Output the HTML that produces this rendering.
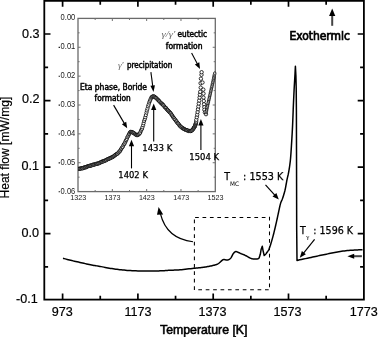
<!DOCTYPE html>
<html><head><meta charset="utf-8"><title>DSC heat flow</title>
<style>html,body{margin:0;padding:0;background:#fff;width:378px;height:337px;overflow:hidden}svg{display:block}</style>
</head><body>
<svg width="378" height="337" viewBox="0 0 378 337"><rect x="44.3" y="0.85" width="319.6" height="298.75" fill="none" stroke="#000" stroke-width="1.8"/>
<path d="M62.6,299.6V293.6M62.6,0.85V6.85M137.9,299.6V293.6M137.9,0.85V6.85M213.2,299.6V293.6M213.2,0.85V6.85M288.5,299.6V293.6M288.5,0.85V6.85M100.25,299.6V295.8M100.25,0.85V4.65M175.55,299.6V295.8M175.55,0.85V4.65M250.85,299.6V295.8M250.85,0.85V4.65M326.15,299.6V295.8M326.15,0.85V4.65M44.3,34.01H50.5M363.9,34.01H357.7M44.3,100.54H50.5M363.9,100.54H357.7M44.3,167.07H50.5M363.9,167.07H357.7M44.3,233.6H50.5M363.9,233.6H357.7M44.3,67.28H48.1M363.9,67.28H360.1M44.3,133.81H48.1M363.9,133.81H360.1M44.3,200.33H48.1M363.9,200.33H360.1M44.3,266.87H48.1M363.9,266.87H360.1" stroke="#000" stroke-width="1.7" fill="none"/>
<g font-family="Liberation Sans, Arial, sans-serif" font-size="12.6" fill="#000" stroke="#000" stroke-width="0.2">
<text x="51.7" y="315.9">973</text>
<text x="124.5" y="315.9">1173</text>
<text x="198.4" y="315.9">1373</text>
<text x="273.4" y="315.9">1573</text>
<text x="349.8" y="315.7">1773</text>
<text x="22" y="37.5">0.3</text>
<text x="21.9" y="103.2">0.2</text>
<text x="21.5" y="170.35">0.1</text>
<text x="21.6" y="236.6">0.0</text>
<text x="16" y="302.6">-0.1</text>
</g>
<text x="160" y="334" font-family="Liberation Sans, Arial, sans-serif" font-size="12.3" fill="#000" stroke="#000" stroke-width="0.55">Temperature [K]</text>
<text transform="translate(9.3,198.5) rotate(-90)" font-family="Liberation Sans, Arial, sans-serif" font-size="12.05" fill="#000" stroke="#000" stroke-width="0.2">Heat flow [mW/mg]</text>
<polyline points="63,258.3 63.57,258.45 64.3,258.65 65.16,258.89 66.14,259.15 67.2,259.43 68.31,259.73 69.45,260.02 70.6,260.3 71.78,260.58 73.04,260.87 74.36,261.18 75.72,261.48 77.1,261.79 78.49,262.1 79.86,262.4 81.2,262.7 82.53,263 83.88,263.3 85.24,263.61 86.59,263.91 87.93,264.21 89.23,264.49 90.49,264.76 91.7,265 92.83,265.21 93.88,265.4 94.87,265.56 95.84,265.72 96.82,265.87 97.81,266.03 98.87,266.2 100,266.4 101.21,266.63 102.49,266.87 103.81,267.13 105.16,267.4 106.52,267.67 107.9,267.93 109.26,268.17 110.6,268.4 111.91,268.61 113.2,268.8 114.48,268.99 115.77,269.16 117.07,269.33 118.4,269.49 119.77,269.65 121.2,269.8 122.66,269.95 124.13,270.1 125.63,270.24 127.17,270.38 128.75,270.5 130.39,270.62 132.11,270.72 133.9,270.8 135.84,270.87 137.94,270.92 140.14,270.95 142.38,270.98 144.61,270.99 146.76,271 148.78,271 150.6,271 152.23,271 153.73,270.99 155.12,270.97 156.42,270.94 157.65,270.91 158.85,270.88 160.02,270.84 161.2,270.8 162.34,270.75 163.41,270.7 164.42,270.63 165.41,270.57 166.4,270.5 167.41,270.43 168.47,270.36 169.6,270.3 170.78,270.24 171.98,270.2 173.2,270.16 174.46,270.11 175.76,270.06 177.11,270 178.52,269.91 180,269.8 181.61,269.65 183.36,269.48 185.21,269.28 187.09,269.06 188.94,268.85 190.72,268.64 192.36,268.46 193.8,268.3 195.03,268.18 196.1,268.08 197.04,268 197.9,267.93 198.71,267.86 199.5,267.79 200.32,267.71 201.2,267.6 202.13,267.48 203.08,267.34 204.02,267.2 204.97,267.04 205.91,266.89 206.83,266.73 207.73,266.56 208.6,266.4 209.46,266.23 210.32,266.06 211.17,265.89 212.01,265.71 212.81,265.53 213.56,265.35 214.26,265.17 214.9,265 215.46,264.84 215.96,264.68 216.4,264.54 216.79,264.39 217.16,264.23 217.51,264.07 217.85,263.9 218.2,263.7 218.54,263.48 218.87,263.25 219.17,263 219.46,262.74 219.75,262.47 220.03,262.21 220.31,261.95 220.6,261.7 220.9,261.45 221.2,261.18 221.5,260.91 221.8,260.64 222.09,260.38 222.38,260.15 222.65,259.96 222.9,259.8 223.13,259.69 223.33,259.61 223.52,259.57 223.69,259.55 223.87,259.55 224.06,259.56 224.27,259.58 224.5,259.6 224.76,259.64 225.04,259.71 225.34,259.79 225.65,259.89 225.96,259.98 226.28,260.05 226.59,260.09 226.9,260.1 227.2,260.07 227.51,260.02 227.82,259.95 228.13,259.86 228.43,259.75 228.73,259.61 229.02,259.47 229.3,259.3 229.57,259.12 229.83,258.92 230.08,258.71 230.33,258.48 230.57,258.23 230.81,257.95 231.05,257.64 231.3,257.3 231.55,256.91 231.79,256.45 232.04,255.96 232.28,255.45 232.53,254.94 232.78,254.45 233.04,253.99 233.3,253.6 233.57,253.25 233.85,252.92 234.14,252.61 234.43,252.32 234.72,252.08 235.01,251.87 235.31,251.71 235.6,251.6 235.89,251.55 236.17,251.57 236.46,251.63 236.74,251.74 237.04,251.87 237.34,252.01 237.66,252.16 238,252.3 238.36,252.44 238.75,252.61 239.16,252.79 239.58,252.98 239.99,253.17 240.41,253.35 240.81,253.53 241.2,253.7 241.57,253.85 241.92,253.98 242.26,254.11 242.6,254.24 242.94,254.36 243.28,254.5 243.63,254.64 244,254.8 244.38,254.98 244.77,255.16 245.18,255.36 245.58,255.56 245.99,255.77 246.4,255.98 246.8,256.19 247.2,256.4 247.59,256.61 247.98,256.84 248.37,257.07 248.75,257.29 249.13,257.52 249.52,257.73 249.91,257.93 250.3,258.1 250.69,258.26 251.07,258.4 251.46,258.54 251.84,258.66 252.24,258.77 252.64,258.86 253.06,258.94 253.5,259 253.98,259.04 254.5,259.07 255.05,259.08 255.6,259.07 256.14,259.05 256.65,259.01 257.11,258.96 257.5,258.9 257.83,258.81 258.11,258.69 258.35,258.55 258.55,258.39 258.72,258.24 258.87,258.1 258.99,257.98 259.1,257.9 260.3,254.3 261.1,249.5 262.3,246.3 263,250.3 264.2,255.5 264.35,255.37 264.53,255.22 264.76,255.04 265.01,254.83 265.28,254.57 265.58,254.27 265.88,253.92 266.2,253.5 266.53,253.04 266.89,252.56 267.27,252.03 267.66,251.46 268.07,250.81 268.48,250.08 268.89,249.24 269.3,248.3 269.71,247.22 270.13,246.03 270.56,244.72 270.99,243.34 271.43,241.89 271.86,240.41 272.28,238.9 272.7,237.4 273.11,235.86 273.53,234.26 273.95,232.61 274.36,230.93 274.76,229.25 275.15,227.59 275.53,225.96 275.9,224.4 276.25,222.88 276.58,221.39 276.91,219.92 277.22,218.48 277.52,217.06 277.82,215.67 278.11,214.32 278.4,213 278.68,211.7 278.95,210.41 279.22,209.15 279.47,207.92 279.73,206.74 279.98,205.61 280.24,204.57 280.5,203.6 280.76,202.76 281.02,202.06 281.27,201.45 281.52,200.89 281.78,200.34 282.05,199.75 282.32,199.09 282.6,198.3 282.9,197.4 283.21,196.43 283.54,195.4 283.87,194.32 284.2,193.21 284.51,192.08 284.82,190.94 285.1,189.8 285.36,188.64 285.6,187.45 285.83,186.22 286.04,184.99 286.26,183.75 286.47,182.53 286.68,181.35 286.9,180.2 287.13,179.12 287.35,178.12 287.58,177.15 287.81,176.19 288.03,175.22 288.26,174.2 288.48,173.1 288.7,171.9 288.92,170.62 289.14,169.3 289.37,167.93 289.59,166.49 289.8,164.99 290.01,163.42 290.21,161.76 290.4,160 290.58,158.13 290.74,156.13 290.9,154.04 291.04,151.88 291.19,149.67 291.33,147.44 291.46,145.21 291.6,143 291.74,140.81 291.87,138.62 292,136.41 292.13,134.19 292.25,131.94 292.37,129.66 292.49,127.35 292.6,125 292.71,122.58 292.81,120.07 292.91,117.51 293.01,114.94 293.11,112.37 293.2,109.84 293.3,107.37 293.4,105 293.5,102.7 293.6,100.42 293.7,98.19 293.81,96 293.91,93.88 294.01,91.83 294.1,89.87 294.2,88 294.29,86.25 294.39,84.6 294.48,83.04 294.57,81.55 294.66,80.12 294.74,78.73 294.82,77.36 294.9,76 294.98,74.6 295.05,73.17 295.12,71.73 295.19,70.35 295.26,69.06 295.31,67.91 295.36,66.94 295.4,66.2 295.9,76 296.2,88 296.4,110 296.5,150 296.7,230 297,260.4 298.11,260.16 299.6,259.85 301.39,259.47 303.36,259.05 305.41,258.61 307.46,258.18 309.38,257.77 311.1,257.4 312.63,257.07 314.09,256.75 315.48,256.45 316.84,256.15 318.17,255.86 319.5,255.57 320.83,255.29 322.2,255 323.59,254.71 324.97,254.43 326.36,254.15 327.75,253.87 329.14,253.59 330.52,253.32 331.91,253.06 333.3,252.8 334.69,252.54 336.07,252.28 337.46,252.02 338.84,251.77 340.23,251.53 341.62,251.3 343.01,251.09 344.4,250.9 345.82,250.73 347.29,250.59 348.78,250.46 350.26,250.34 351.71,250.24 353.1,250.15 354.41,250.07 355.6,250 356.72,249.94 357.79,249.9 358.81,249.86 359.75,249.84 360.61,249.83 361.36,249.82 362,249.81 362.5,249.8" fill="none" stroke="#000" stroke-width="1.5" stroke-linejoin="round"/>
<path d="M195.1,217.4H270M269.5,216.8V290.2M198.3,289.7H270M194.4,219.5V290.2" fill="none" stroke="#000" stroke-width="1.05" stroke-dasharray="3.7,3.71"/>
<path d="M193,241.7 C178,240 165,232 160.5,214" fill="none" stroke="#000" stroke-width="1.15"/>
<path d="M158.6,207 L163.2,214.6 L157,214.8 Z" fill="#000"/>
<line x1="332.2" y1="25.8" x2="332.2" y2="15.5" stroke="#444" stroke-width="2"/><path d="M332.2,8.4L335.3,16L329.1,16Z" fill="#000"/>
<line x1="361.9" y1="256.2" x2="353.7" y2="256.2" stroke="#444" stroke-width="2"/><path d="M347.4,256.2L354.2,253.7L354.2,258.7Z" fill="#000"/>
<line x1="265.5" y1="184.8" x2="274.79" y2="195.14" stroke="#000" stroke-width="1.2"/><path d="M278.8,199.6L272.52,196.5L276.39,193.03Z" fill="#000"/>
<line x1="314.6" y1="239.4" x2="303.56" y2="253.12" stroke="#000" stroke-width="1.2"/><path d="M299.8,257.8L301.85,251.11L305.9,254.36Z" fill="#000"/>
<text x="289.4" y="39.5" font-size="11.6" font-family="DejaVu Sans Condensed, Liberation Sans, sans-serif" fill="#000" textLength="60.5" lengthAdjust="spacingAndGlyphs" stroke="#000" stroke-width="0.7">Exothermic</text>
<text x="224.2" y="179.9" font-size="10.5" font-family="DejaVu Sans Condensed, Liberation Sans, sans-serif" fill="#000" stroke="#000" stroke-width="0.25">T</text>
<text x="230" y="186.2" font-size="6.2" font-family="DejaVu Sans Condensed, Liberation Sans, sans-serif" fill="#000" textLength="9" lengthAdjust="spacingAndGlyphs">MC</text>
<text x="243.1" y="179.9" font-size="10.5" font-family="DejaVu Sans Condensed, Liberation Sans, sans-serif" fill="#000" textLength="40.2" lengthAdjust="spacingAndGlyphs" stroke="#000" stroke-width="0.25">: 1553 K</text>
<text x="300.1" y="233.9" font-size="10.5" font-family="DejaVu Sans Condensed, Liberation Sans, sans-serif" fill="#000" stroke="#000" stroke-width="0.25">T</text>
<text x="306.2" y="239.3" font-size="7" font-family="Liberation Serif, serif" fill="#000">γ</text>
<text x="313.3" y="233.9" font-size="10.5" font-family="DejaVu Sans Condensed, Liberation Sans, sans-serif" fill="#000" textLength="39.7" lengthAdjust="spacingAndGlyphs" stroke="#000" stroke-width="0.25">: 1596 K</text>
<rect x="78" y="18.4" width="137.3" height="173.2" fill="#fff" stroke="#6a6a6a" stroke-width="1.3"/>
<path d="M95.16,191.6V190M95.16,18.4V20M112.33,191.6V189M112.33,18.4V21M129.49,191.6V190M129.49,18.4V20M146.65,191.6V189M146.65,18.4V21M163.81,191.6V190M163.81,18.4V20M180.97,191.6V189M180.97,18.4V21M198.14,191.6V190M198.14,18.4V20M78,32.83H79.6M215.3,32.83H213.7M78,47.27H80.6M215.3,47.27H212.7M78,61.7H79.6M215.3,61.7H213.7M78,76.13H80.6M215.3,76.13H212.7M78,90.57H79.6M215.3,90.57H213.7M78,105H80.6M215.3,105H212.7M78,119.43H79.6M215.3,119.43H213.7M78,133.87H80.6M215.3,133.87H212.7M78,148.3H79.6M215.3,148.3H213.7M78,162.73H80.6M215.3,162.73H212.7M78,177.17H79.6M215.3,177.17H213.7" stroke="#707070" stroke-width="1" fill="none"/>
<g font-family="Liberation Sans, Arial, sans-serif" font-size="7.8" fill="#1a1a1a">
<text transform="translate(78.2,200) scale(0.92,1)" text-anchor="middle">1323</text>
<text transform="translate(112.53,200) scale(0.92,1)" text-anchor="middle">1373</text>
<text transform="translate(146.85,200) scale(0.92,1)" text-anchor="middle">1423</text>
<text transform="translate(181.17,200) scale(0.92,1)" text-anchor="middle">1473</text>
<text transform="translate(215.5,200) scale(0.92,1)" text-anchor="middle">1523</text>
<text transform="translate(75.3,20.3) scale(0.86,1)" text-anchor="end" font-size="8.8">0.00</text>
<text transform="translate(75.3,49.17) scale(0.86,1)" text-anchor="end" font-size="8.8">0.01</text>
<text transform="translate(75.3,78.03) scale(0.86,1)" text-anchor="end" font-size="8.8">0.02</text>
<text transform="translate(75.3,106.9) scale(0.86,1)" text-anchor="end" font-size="8.8">0.03</text>
<text transform="translate(75.3,135.77) scale(0.86,1)" text-anchor="end" font-size="8.8">0.04</text>
<text transform="translate(75.3,164.63) scale(0.86,1)" text-anchor="end" font-size="8.8">0.05</text>
<text transform="translate(75.3,193.5) scale(0.86,1)" text-anchor="end" font-size="8.8">0.06</text>
</g>
<path d="M58.6,47.37h1.4M58.6,76.23h1.4M58.6,105.1h1.4M58.6,133.97h1.4M58.6,162.83h1.4M58.6,191.7h1.4" stroke="#222" stroke-width="1.1" fill="none"/>
<clipPath id="ic"><rect x="78" y="10" width="150" height="182"/></clipPath>
<g clip-path="url(#ic)" fill="#fff" stroke="#000" stroke-width="0.8"><circle cx="77.97" cy="168.99" r="1.6"/><circle cx="78.6" cy="168.81" r="1.6"/><circle cx="79.17" cy="168.85" r="1.6"/><circle cx="79.65" cy="168.81" r="1.6"/><circle cx="80.25" cy="168.62" r="1.6"/><circle cx="80.84" cy="168.28" r="1.6"/><circle cx="81.5" cy="168.58" r="1.6"/><circle cx="82.05" cy="168.08" r="1.6"/><circle cx="82.73" cy="168.37" r="1.6"/><circle cx="83.3" cy="167.89" r="1.6"/><circle cx="83.98" cy="167.52" r="1.6"/><circle cx="84.59" cy="167.5" r="1.6"/><circle cx="85.07" cy="167.21" r="1.6"/><circle cx="85.67" cy="167.44" r="1.6"/><circle cx="86.25" cy="167.08" r="1.6"/><circle cx="86.91" cy="166.73" r="1.6"/><circle cx="87.49" cy="166.31" r="1.6"/><circle cx="88" cy="166.18" r="1.6"/><circle cx="88.66" cy="166.11" r="1.6"/><circle cx="89.21" cy="166" r="1.6"/><circle cx="89.86" cy="165.63" r="1.6"/><circle cx="90.48" cy="165.7" r="1.6"/><circle cx="90.94" cy="165.46" r="1.6"/><circle cx="91.61" cy="165.46" r="1.6"/><circle cx="92.22" cy="164.94" r="1.6"/><circle cx="92.83" cy="164.68" r="1.6"/><circle cx="93.35" cy="164.88" r="1.6"/><circle cx="93.92" cy="164.54" r="1.6"/><circle cx="94.52" cy="164.47" r="1.6"/><circle cx="95.22" cy="164.25" r="1.6"/><circle cx="95.81" cy="163.93" r="1.6"/><circle cx="96.4" cy="163.91" r="1.6"/><circle cx="96.94" cy="163.65" r="1.6"/><circle cx="97.54" cy="163.77" r="1.6"/><circle cx="98.1" cy="163.4" r="1.6"/><circle cx="98.64" cy="163.21" r="1.6"/><circle cx="99.37" cy="163.17" r="1.6"/><circle cx="99.98" cy="162.53" r="1.6"/><circle cx="100.47" cy="162.53" r="1.6"/><circle cx="101" cy="162.17" r="1.6"/><circle cx="101.64" cy="161.7" r="1.6"/><circle cx="102.24" cy="161.83" r="1.6"/><circle cx="102.87" cy="161.25" r="1.6"/><circle cx="103.47" cy="161.38" r="1.6"/><circle cx="103.97" cy="160.89" r="1.6"/><circle cx="104.68" cy="160.88" r="1.6"/><circle cx="105.34" cy="160.6" r="1.6"/><circle cx="105.84" cy="160.07" r="1.6"/><circle cx="106.46" cy="160.09" r="1.6"/><circle cx="107.18" cy="159.37" r="1.6"/><circle cx="107.65" cy="159.15" r="1.6"/><circle cx="108.27" cy="159.03" r="1.6"/><circle cx="108.94" cy="158.61" r="1.6"/><circle cx="109.39" cy="158.45" r="1.6"/><circle cx="110.05" cy="158.25" r="1.6"/><circle cx="110.74" cy="158.04" r="1.6"/><circle cx="111.25" cy="157.69" r="1.6"/><circle cx="111.87" cy="157.04" r="1.6"/><circle cx="112.48" cy="157.17" r="1.6"/><circle cx="113.08" cy="156.84" r="1.6"/><circle cx="113.57" cy="156.27" r="1.6"/><circle cx="114.13" cy="156.03" r="1.6"/><circle cx="114.71" cy="155.32" r="1.6"/><circle cx="115.29" cy="155.01" r="1.6"/><circle cx="115.89" cy="154.55" r="1.6"/><circle cx="116.41" cy="154.19" r="1.6"/><circle cx="116.98" cy="153.9" r="1.6"/><circle cx="117.52" cy="153.75" r="1.6"/><circle cx="118.23" cy="152.76" r="1.6"/><circle cx="118.71" cy="152.3" r="1.6"/><circle cx="119.28" cy="151.53" r="1.6"/><circle cx="119.96" cy="151.31" r="1.6"/><circle cx="120.45" cy="150.23" r="1.6"/><circle cx="120.94" cy="149.17" r="1.6"/><circle cx="121.57" cy="148.33" r="1.6"/><circle cx="122.21" cy="147.37" r="1.6"/><circle cx="122.66" cy="146.87" r="1.6"/><circle cx="123.33" cy="145.37" r="1.6"/><circle cx="123.91" cy="144.24" r="1.6"/><circle cx="124.49" cy="143.71" r="1.6"/><circle cx="125.12" cy="142.45" r="1.6"/><circle cx="125.6" cy="141.08" r="1.6"/><circle cx="126.17" cy="140.11" r="1.6"/><circle cx="126.8" cy="138.91" r="1.6"/><circle cx="127.33" cy="137.25" r="1.6"/><circle cx="127.98" cy="136.43" r="1.6"/><circle cx="128.56" cy="135.13" r="1.6"/><circle cx="129.14" cy="134.05" r="1.6"/><circle cx="129.61" cy="133.03" r="1.6"/><circle cx="130.21" cy="132.05" r="1.6"/><circle cx="130.76" cy="131.83" r="1.6"/><circle cx="131.43" cy="132.03" r="1.6"/><circle cx="132.14" cy="132.07" r="1.6"/><circle cx="132.7" cy="132.7" r="1.6"/><circle cx="133.27" cy="132.69" r="1.6"/><circle cx="133.7" cy="132.97" r="1.6"/><circle cx="134.29" cy="133.31" r="1.6"/><circle cx="134.92" cy="134.11" r="1.6"/><circle cx="135.57" cy="134.33" r="1.6"/><circle cx="136.13" cy="134.93" r="1.6"/><circle cx="136.65" cy="135.08" r="1.6"/><circle cx="137.43" cy="135.12" r="1.6"/><circle cx="137.96" cy="134.75" r="1.6"/><circle cx="138.43" cy="134.61" r="1.6"/><circle cx="139.06" cy="134.13" r="1.6"/><circle cx="139.73" cy="133.27" r="1.6"/><circle cx="140.2" cy="132.75" r="1.6"/><circle cx="140.83" cy="131.18" r="1.6"/><circle cx="141.29" cy="129.88" r="1.6"/><circle cx="142" cy="128.84" r="1.6"/><circle cx="142.44" cy="127.2" r="1.6"/><circle cx="143.14" cy="125.27" r="1.6"/><circle cx="143.6" cy="123.24" r="1.6"/><circle cx="144.12" cy="120.91" r="1.6"/><circle cx="144.82" cy="119.22" r="1.6"/><circle cx="145.3" cy="117.26" r="1.6"/><circle cx="145.85" cy="115.1" r="1.6"/><circle cx="146.48" cy="112.6" r="1.6"/><circle cx="146.94" cy="110.54" r="1.6"/><circle cx="147.49" cy="108.63" r="1.6"/><circle cx="148.06" cy="106.4" r="1.6"/><circle cx="148.6" cy="104.71" r="1.6"/><circle cx="149.19" cy="102.61" r="1.6"/><circle cx="149.8" cy="101.18" r="1.6"/><circle cx="150.34" cy="99.76" r="1.6"/><circle cx="150.93" cy="98.44" r="1.6"/><circle cx="151.5" cy="97.31" r="1.6"/><circle cx="152.1" cy="96.73" r="1.6"/><circle cx="152.6" cy="96.67" r="1.6"/><circle cx="153.24" cy="96.31" r="1.6"/><circle cx="153.96" cy="96.48" r="1.6"/><circle cx="154.46" cy="96.71" r="1.6"/><circle cx="155.08" cy="97.26" r="1.6"/><circle cx="155.56" cy="97.62" r="1.6"/><circle cx="156.16" cy="97.99" r="1.6"/><circle cx="156.86" cy="98.7" r="1.6"/><circle cx="157.4" cy="99.41" r="1.6"/><circle cx="158.01" cy="99.77" r="1.6"/><circle cx="158.51" cy="100.36" r="1.6"/><circle cx="159.08" cy="101.07" r="1.6"/><circle cx="159.63" cy="101.54" r="1.6"/><circle cx="160.23" cy="102.39" r="1.6"/><circle cx="160.84" cy="102.94" r="1.6"/><circle cx="161.49" cy="103.19" r="1.6"/><circle cx="161.99" cy="104.18" r="1.6"/><circle cx="162.63" cy="104.29" r="1.6"/><circle cx="163.09" cy="105.08" r="1.6"/><circle cx="163.68" cy="105.58" r="1.6"/><circle cx="164.28" cy="106.47" r="1.6"/><circle cx="165.01" cy="107.24" r="1.6"/><circle cx="165.48" cy="107.77" r="1.6"/><circle cx="166.15" cy="108.06" r="1.6"/><circle cx="166.77" cy="109.19" r="1.6"/><circle cx="167.23" cy="109.82" r="1.6"/><circle cx="167.84" cy="110.19" r="1.6"/><circle cx="168.52" cy="111.06" r="1.6"/><circle cx="168.97" cy="111.52" r="1.6"/><circle cx="169.61" cy="112.14" r="1.6"/><circle cx="170.12" cy="112.82" r="1.6"/><circle cx="170.79" cy="113.35" r="1.6"/><circle cx="171.34" cy="114.34" r="1.6"/><circle cx="171.83" cy="115.06" r="1.6"/><circle cx="172.54" cy="115.98" r="1.6"/><circle cx="173.03" cy="117.09" r="1.6"/><circle cx="173.75" cy="117.91" r="1.6"/><circle cx="174.21" cy="118.29" r="1.6"/><circle cx="174.78" cy="119.42" r="1.6"/><circle cx="175.41" cy="119.84" r="1.6"/><circle cx="176.04" cy="121.12" r="1.6"/><circle cx="176.67" cy="121.47" r="1.6"/><circle cx="177.11" cy="122.6" r="1.6"/><circle cx="177.75" cy="123.21" r="1.6"/><circle cx="178.26" cy="123.58" r="1.6"/><circle cx="178.97" cy="124.52" r="1.6"/><circle cx="179.42" cy="125.46" r="1.6"/><circle cx="180.12" cy="126.01" r="1.6"/><circle cx="180.62" cy="126.65" r="1.6"/><circle cx="181.22" cy="127.22" r="1.6"/><circle cx="181.86" cy="127.43" r="1.6"/><circle cx="182.46" cy="128.26" r="1.6"/><circle cx="182.99" cy="128.22" r="1.6"/><circle cx="183.61" cy="128.69" r="1.6"/><circle cx="184.11" cy="129.01" r="1.6"/><circle cx="184.68" cy="129.36" r="1.6"/><circle cx="185.32" cy="129.72" r="1.6"/><circle cx="186.03" cy="129.99" r="1.6"/><circle cx="186.61" cy="130.17" r="1.6"/><circle cx="187.21" cy="130.31" r="1.6"/><circle cx="187.82" cy="130.52" r="1.6"/><circle cx="188.54" cy="131.02" r="1.6"/><circle cx="189.05" cy="131.1" r="1.6"/><circle cx="189.79" cy="130.91" r="1.6"/><circle cx="190.34" cy="131.04" r="1.6"/><circle cx="190.83" cy="131.1" r="1.6"/><circle cx="191.5" cy="130.52" r="1.6"/><circle cx="192.06" cy="130.43" r="1.6"/><circle cx="192.48" cy="129.91" r="1.6"/><circle cx="193.01" cy="129.32" r="1.6"/><circle cx="193.39" cy="128.64" r="1.6"/><circle cx="193.69" cy="128" r="1.6"/><circle cx="194.06" cy="127.8" r="1.6"/><circle cx="194.38" cy="126.93" r="1.6"/><circle cx="194.63" cy="126.8" r="1.6"/><circle cx="195.03" cy="126.15" r="1.6"/><circle cx="195.19" cy="125.26" r="1.6"/><circle cx="195.41" cy="124.79" r="1.6"/><circle cx="195.55" cy="124.2" r="1.6"/><circle cx="195.74" cy="123.86" r="1.6"/><circle cx="196.02" cy="122.97" r="1.6"/><circle cx="196.04" cy="122.55" r="1.6"/><circle cx="196.19" cy="121.55" r="1.6"/><circle cx="196.3" cy="119.8" r="1.7"/><circle cx="196.8" cy="117.2" r="1.7"/><circle cx="197.2" cy="114.6" r="1.7"/><circle cx="197.6" cy="112" r="1.7"/><circle cx="198" cy="109.2" r="1.7"/><circle cx="198.4" cy="106.4" r="1.7"/><circle cx="198.8" cy="103.5" r="1.7"/><circle cx="199.2" cy="100.5" r="1.7"/><circle cx="199.6" cy="97.5" r="1.7"/><circle cx="199.9" cy="94.6" r="1.7"/><circle cx="200.2" cy="91.8" r="1.7"/><circle cx="200.7" cy="87.6" r="1.7"/><circle cx="200.6" cy="83.2" r="1.7"/><circle cx="200.9" cy="78.7" r="1.7"/><circle cx="201.5" cy="74.8" r="1.7"/><circle cx="201.6" cy="72.2" r="1.7"/><circle cx="202.5" cy="82.5" r="1.7"/><circle cx="203.3" cy="89.6" r="1.7"/><circle cx="203.5" cy="93.6" r="1.7"/><circle cx="203.5" cy="97.6" r="1.7"/><circle cx="203.8" cy="101" r="1.7"/><circle cx="204" cy="104.3" r="1.7"/><circle cx="204.3" cy="107.2" r="1.7"/><circle cx="204.4" cy="109.8" r="1.7"/><circle cx="204.9" cy="112.4" r="1.7"/><circle cx="206" cy="114.2" r="1.7"/><circle cx="206.09" cy="112.65" r="1.25"/><circle cx="206.35" cy="111.37" r="1.25"/><circle cx="206.62" cy="110.1" r="1.25"/><circle cx="206.9" cy="108.8" r="1.25"/><circle cx="207.17" cy="107.51" r="1.25"/><circle cx="207.47" cy="106.16" r="1.25"/><circle cx="207.76" cy="104.82" r="1.25"/><circle cx="208.06" cy="103.49" r="1.25"/><circle cx="208.36" cy="102.16" r="1.25"/><circle cx="208.66" cy="100.82" r="1.25"/><circle cx="208.96" cy="99.49" r="1.25"/><circle cx="209.26" cy="98.16" r="1.25"/><circle cx="209.56" cy="96.82" r="1.25"/><circle cx="209.86" cy="95.49" r="1.25"/><circle cx="210.16" cy="94.16" r="1.25"/><circle cx="210.46" cy="92.82" r="1.25"/><circle cx="210.76" cy="91.49" r="1.25"/><circle cx="211.06" cy="90.16" r="1.25"/><circle cx="211.36" cy="88.85" r="1.25"/><circle cx="211.66" cy="87.55" r="1.25"/><circle cx="211.95" cy="86.26" r="1.25"/><circle cx="212.25" cy="84.94" r="1.25"/><circle cx="212.53" cy="83.66" r="1.25"/><circle cx="212.83" cy="82.32" r="1.25"/><circle cx="213.11" cy="81.04" r="1.25"/><circle cx="213.39" cy="79.69" r="1.25"/><circle cx="213.68" cy="78.35" r="1.25"/><circle cx="213.95" cy="77.07" r="1.25"/><circle cx="214.23" cy="75.73" r="1.25"/><circle cx="214.49" cy="74.45" r="1.25"/><circle cx="214.76" cy="73.15" r="1.25"/></g>
<line x1="113.6" y1="105.1" x2="124.32" y2="123.38" stroke="#000" stroke-width="1.1"/><path d="M127.2,128.3L121.91,124.22L126.22,121.69Z" fill="#000"/>
<line x1="150.9" y1="72.1" x2="152.72" y2="86.05" stroke="#000" stroke-width="1.1"/><path d="M153.5,92L150.38,85.85L154.94,85.26Z" fill="#000"/>
<line x1="191.6" y1="52.9" x2="197.3" y2="63.76" stroke="#000" stroke-width="1.1"/><path d="M200,68.9L194.86,64.48L199.29,62.16Z" fill="#000"/>
<line x1="131.5" y1="168.4" x2="131.5" y2="145.8" stroke="#000" stroke-width="1.1"/><path d="M131.5,139.8L134.1,146.3L128.9,146.3Z" fill="#000"/>
<line x1="153.7" y1="141.5" x2="153.7" y2="109.5" stroke="#000" stroke-width="1.1"/><path d="M153.7,103.5L156.3,110L151.1,110Z" fill="#000"/>
<line x1="200.9" y1="150" x2="200.9" y2="125.1" stroke="#000" stroke-width="1.1"/><path d="M200.9,119.1L203.5,125.6L198.3,125.6Z" fill="#000"/>
<text x="80" y="90.3" font-size="8.3" font-family="DejaVu Sans Condensed, Liberation Sans, sans-serif" fill="#000" textLength="67" lengthAdjust="spacingAndGlyphs" stroke="#000" stroke-width="0.45">Eta phase, Boride</text>
<text x="94.6" y="101.1" font-size="8.3" font-family="DejaVu Sans Condensed, Liberation Sans, sans-serif" fill="#000" textLength="36.2" lengthAdjust="spacingAndGlyphs" stroke="#000" stroke-width="0.45">formation</text>
<text x="117.9" y="67.6" font-size="8.6" font-family="Liberation Serif, serif" fill="#6a6a6a" textLength="5.8" lengthAdjust="spacingAndGlyphs" font-style="italic">γ′</text>
<text x="127" y="67.6" font-size="8.3" font-family="DejaVu Sans Condensed, Liberation Sans, sans-serif" fill="#000" textLength="45.3" lengthAdjust="spacingAndGlyphs" stroke="#000" stroke-width="0.45">precipitation</text>
<text x="161.6" y="37" font-size="8.8" font-family="Liberation Serif, serif" fill="#6a6a6a" textLength="13.8" lengthAdjust="spacingAndGlyphs" font-style="italic">γ/γ′</text>
<text x="177.5" y="37" font-size="8.3" font-family="DejaVu Sans Condensed, Liberation Sans, sans-serif" fill="#000" textLength="29.5" lengthAdjust="spacingAndGlyphs" stroke="#000" stroke-width="0.45">eutectic</text>
<text x="165.8" y="48.6" font-size="8.3" font-family="DejaVu Sans Condensed, Liberation Sans, sans-serif" fill="#000" textLength="36.7" lengthAdjust="spacingAndGlyphs" stroke="#000" stroke-width="0.45">formation</text>
<text x="142.2" y="151.3" font-size="9.3" font-family="DejaVu Sans Condensed, Liberation Sans, sans-serif" fill="#000" textLength="30.2" lengthAdjust="spacingAndGlyphs" stroke="#000" stroke-width="0.25">1433 K</text>
<text x="118.3" y="178.4" font-size="9.3" font-family="DejaVu Sans Condensed, Liberation Sans, sans-serif" fill="#000" textLength="29.6" lengthAdjust="spacingAndGlyphs" stroke="#000" stroke-width="0.25">1402 K</text>
<text x="189.3" y="160.3" font-size="9.3" font-family="DejaVu Sans Condensed, Liberation Sans, sans-serif" fill="#000" textLength="29.7" lengthAdjust="spacingAndGlyphs" stroke="#000" stroke-width="0.25">1504 K</text></svg>
</body></html>
